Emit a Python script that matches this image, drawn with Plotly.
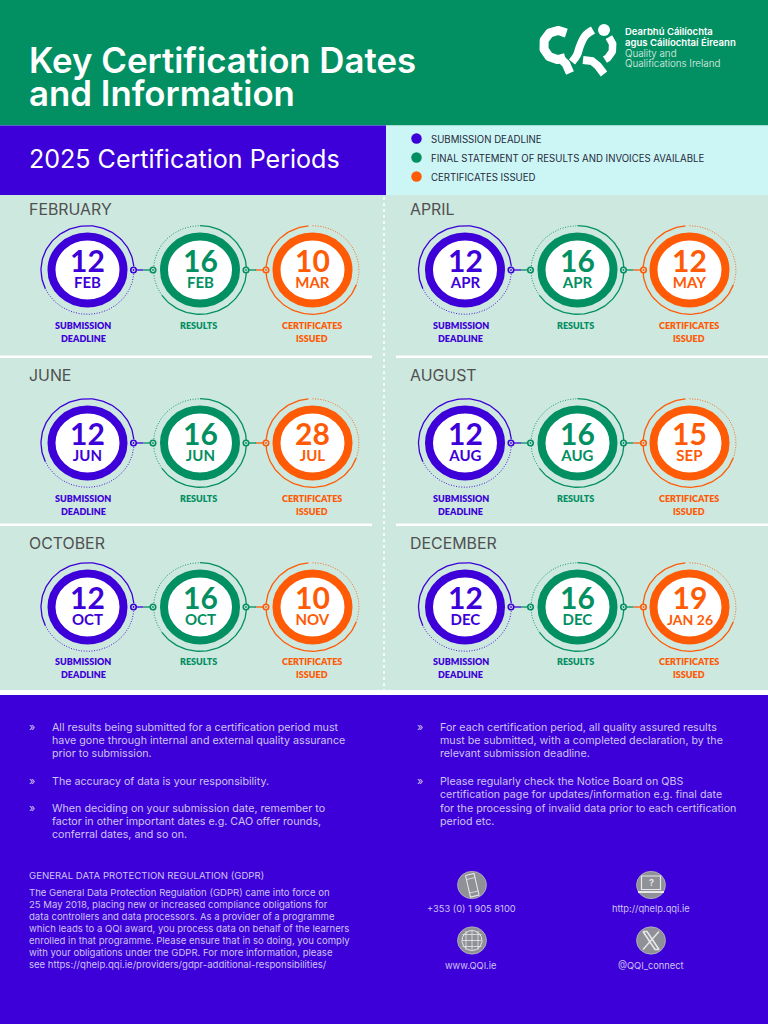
import numpy as np
import plotly.graph_objects as go

# ---------- data ----------
period_names = ["FEBRUARY", "APRIL", "JUNE", "AUGUST", "OCTOBER", "DECEMBER"]
submission_days = ["12", "12", "12", "12", "12", "12"]
submission_months = ["FEB", "APR", "JUN", "AUG", "OCT", "DEC"]
results_days = ["16", "16", "16", "16", "16", "16"]
results_months = ["FEB", "APR", "JUN", "AUG", "OCT", "DEC"]
certificate_days = ["10", "12", "28", "15", "10", "19"]
certificate_months = ["MAR", "MAY", "JUL", "SEP", "NOV", "JAN 26"]
legend_labels = ["SUBMISSION DEADLINE", "FINAL STATEMENT OF RESULTS AND INVOICES AVAILABLE", "CERTIFICATES ISSUED"]
left_bullets = [
    ["All results being submitted for a certification period must",
     "have gone through internal and external quality assurance",
     "prior to submission."],
    ["The accuracy of data is your responsibility."],
    ["When deciding on your submission date, remember to",
     "factor in other important dates e.g. CAO offer rounds,",
     "conferral dates, and so on."],
]
right_bullets = [
    ["For each certification period, all quality assured results",
     "must be submitted, with a completed declaration, by the",
     "relevant submission deadline."],
    ["Please regularly check the Notice Board on QBS",
     "certification page for updates/information e.g. final date",
     "for the processing of invalid data prior to each certification",
     "period etc."],
]
gdpr_title = "GENERAL DATA PROTECTION REGULATION (GDPR)"
gdpr_lines = [
    "The General Data Protection Regulation (GDPR) came into force on",
    "25 May 2018, placing new or increased compliance obligations for",
    "data controllers and data processors. As a provider of a programme",
    "which leads to a QQI award, you process data on behalf of the learners",
    "enrolled in that programme. Please ensure that in so doing, you comply",
    "with your obligations under the GDPR. For more information, please",
    "see https://qhelp.qqi.ie/providers/gdpr-additional-responsibilities/",
]
contact_labels = ["+353 (0) 1 905 8100", "http://qhelp.qqi.ie", "www.QQI.ie", "@QQI_connect"]

# ---------- style ----------
GREEN, PURPLE, ORANGE = "#028F62", "#3D00D8", "#FF5A05"
MINT, CYAN, LAV, GREY = "#CDE8DF", "#CCF6F6", "#CDC3F4", "#8F9196"
SANS = "Inter"
W, H = 768, 1024

col_x = [[87.5, 200, 312.5], [465, 577.5, 689.5]]
row_y = [270, 443, 607]
title_y = [209, 375, 543]
label_y = [[325, 338], [498, 511], [661, 674]]

shapes, ann, traces = [], [], []


def rect(x0, y0, x1, y1, c):
    shapes.append(dict(type="rect", x0=x0, y0=y0, x1=x1, y1=y1, fillcolor=c, line_width=0, layer="below"))


def txt(x, y, s, size, color, anchor="left", font=SANS, weight=400):
    if anchor == "left":
        x -= 1
    ann.append(dict(x=x, y=y, text=s, showarrow=False, xanchor=anchor, yanchor="middle",
                    align=anchor, xref="x", yref="y", borderpad=0,
                    font=dict(family=font, size=size, color=color, weight=weight)))


def arc(cx, cy, r, a0, a1, color, width, dash="solid", ry=None):
    t = np.radians(np.linspace(a0, a1, 90))
    traces.append(go.Scatter(x=cx + r * np.cos(t), y=cy - (ry or r) * np.sin(t), mode="lines",
                             line=dict(color=color, width=width, dash=dash),
                             hoverinfo="skip", showlegend=False))


def poly(xs, ys, color, width, shape="linear"):
    traces.append(go.Scatter(x=xs, y=ys, mode="lines", line=dict(color=color, width=width, shape=shape),
                             hoverinfo="skip", showlegend=False))


def dots(xs, ys, size, fill, line=None, lw=0):
    traces.append(go.Scatter(x=xs, y=ys, mode="markers",
                             marker=dict(size=size, color=fill, line=dict(color=line or fill, width=lw)),
                             hoverinfo="skip", showlegend=False))


# ---------- blocks ----------
rect(0, 0, W, 125.5, GREEN)
rect(0, 125.5, 386, 195, PURPLE)
rect(386, 125.5, W, 195, CYAN)
rect(0, 195, W, 690, MINT)
rect(0, 690, W, 695, "#FFFFFF")
rect(0, 695, W, H, PURPLE)
for yy in (356.8, 524.8):
    rect(0, yy - 1.2, 372, yy + 1.2, "#FFFFFF")
    rect(396, yy - 1.2, W, yy + 1.2, "#FFFFFF")
traces.append(go.Scatter(x=[384, 384], y=[197, 690], mode="lines",
                         line=dict(color="#FFFFFF", width=1.5, dash="dot"),
                         hoverinfo="skip", showlegend=False))

# ---------- header ----------
txt(29, 76, "<span style='font-size:34.8px'>Key Certification Dates</span><br>"
            "<span style='font-size:34.8px'>and Information</span>", 25, "#FFFFFF", weight=600)
txt(29, 159, "2025 Certification Periods", 25.05, "#FFFFFF", weight=400)

# logo
arc(558, 45, 14.5, 55, 300, "#FFFFFF", 9)
poly([561, 566, 570], [59, 64, 73], "#FFFFFF", 8.5)
poly([593, 585, 580, 577, 572], [30, 36, 46, 55, 62], "#FFFFFF", 8, "spline")
arc(599, 47, 14, 45, -65, "#FFFFFF", 7.5)
poly([583, 592, 598, 604], [60, 61, 66, 74], "#FFFFFF", 8)
dots([604], [30], 12, "#FFFFFF")
txt(625, 31.5, "Dearbhú Cáilíochta", 9.5, "#FFFFFF", weight=600)
txt(625, 42.5, "agus Cáilíochtaí Éireann", 9.55, "#FFFFFF", weight=600)
txt(625, 53, "Quality and", 9.8, "#E4F3EC", weight=300)
txt(625, 63.5, "Qualifications Ireland", 9.8, "#E4F3EC", weight=300)

# legend
for yy, lab, c in zip([138.5, 157.5, 176.5], legend_labels, [PURPLE, GREEN, ORANGE]):
    dots([416.5], [yy], 10.5, c)
    txt(431, yy + 0.5, lab, 9.65, "#26283A")

# ---------- periods ----------
colors = [PURPLE, GREEN, ORANGE]
DOT = "1px,1.6px"
for i, name in enumerate(period_names):
    r, c = i // 2, i % 2
    cy = row_y[r]
    xs = col_x[c]
    txt(29 if c == 0 else 410, title_y[r], name, 15.9, "#505050", weight=400)

    # rings (slightly flattened, as in the reference)
    for x, col in zip(xs, colors):
        shapes.append(dict(type="circle", x0=x - 36, x1=x + 36, y0=cy - 33.4, y1=cy + 33.4,
                           fillcolor="#FFFFFF", line=dict(color=col, width=8), layer="below"))

    # connectors
    poly([xs[0] + 46, xs[0] + 56], [cy, cy], PURPLE, 1.3)
    poly([xs[0] + 56, xs[0] + 66], [cy, cy], GREEN, 1.3)
    poly([xs[1] + 46, xs[1] + 56], [cy, cy], GREEN, 1.3)
    poly([xs[1] + 56, xs[1] + 66], [cy, cy], ORANGE, 1.3)

    # outer arcs
    RX, RY = 46.5, 44.3
    arc(xs[0], cy, RX, 205, 5, PURPLE, 1.3, ry=RY)
    arc(xs[0], cy, RX, -5, -155, PURPLE, 0.9, DOT, ry=RY)
    arc(xs[1], cy, RX, 90, -145, GREEN, 1.3, ry=RY)
    arc(xs[1], cy, RX, 215, 90, GREEN, 0.9, DOT, ry=RY)
    arc(xs[2], cy, RX, 95, 340, ORANGE, 1.3, ry=RY)
    arc(xs[2], cy, RX, 90, -20, ORANGE, 0.9, DOT, ry=RY)

    # small nodes
    for nx, col in zip([xs[0] + 46, xs[0] + 65.5, xs[1] + 46, xs[1] + 66], [PURPLE, GREEN, GREEN, ORANGE]):
        dots([nx], [cy], 5.5, MINT, col, 1.6)
        dots([nx], [cy], 1.8, col)

    days = [submission_days[i], results_days[i], certificate_days[i]]
    months = [submission_months[i], results_months[i], certificate_months[i]]
    for x, d, m, col in zip(xs, days, months, colors):
        ms = 15 if len(m) < 4 else 14
        txt(x, cy - 3.5, f"<span style='font-size:30px'>{d}</span><br><span style='font-size:{ms}px'>{m}</span>",
            12.3, col, "center", "Lato", 700)

    ly = label_y[r]
    txt(xs[0] - 4.5, ly[0], "SUBMISSION", 9, PURPLE, "center", "Lato", 800)
    txt(xs[0] - 4.5, ly[1], "DEADLINE", 9, PURPLE, "center", "Lato", 800)
    txt(xs[1] - 2, ly[0], "RESULTS", 9, GREEN, "center", "Lato", 800)
    txt(xs[2] - 1, ly[0], "CERTIFICATES", 9, ORANGE, "center", "Lato", 800)
    txt(xs[2] - 1, ly[1], "ISSUED", 9, ORANGE, "center", "Lato", 800)

# ---------- bullets ----------
BODY = 10.7
for blocks, bx, tx, ys in [(left_bullets, 29, 52, [727, 781.5, 808]), (right_bullets, 416.5, 440, [727, 781.5])]:
    for lines, y0 in zip(blocks, ys):
        txt(bx, y0, "»", BODY, LAV)
        for j, line in enumerate(lines):
            txt(tx, y0 + j * 13.4, line, BODY, LAV)

txt(29, 875.5, gdpr_title, 9.6, LAV)
for j, line in enumerate(gdpr_lines):
    txt(29, 892.5 + j * 12.05, line, 9.55, LAV)

# ---------- contacts ----------
ICON = "#E8E8EA"
cx = [472, 651, 472, 651]
cy = [885, 885, 940.5, 940.5]
lab_x = [471.5, 651, 470.5, 651]
lab_y = [908, 908, 965, 965]
for x, y, lx, ly, lab in zip(cx, cy, lab_x, lab_y, contact_labels):
    shapes.append(dict(type="circle", x0=x - 14.5, x1=x + 14.5, y0=y - 13.7, y1=y + 13.7,
                       fillcolor=GREY, line=dict(color="#C9C9D0", width=0.6), layer="below"))
    txt(lx, ly, lab, 9.3, LAV, "center")

# phone
poly([465.5, 474, 479, 470.5, 465.5], [875.5, 873.5, 895, 897, 875.5], ICON, 1.1)
poly([466.5, 475], [879.5, 877.5], ICON, 0.8)
poly([469.5, 478], [893, 891], ICON, 0.8)
# laptop
poly([641.5, 660.5, 660.5, 641.5, 641.5], [876, 876, 889.5, 889.5, 876], ICON, 1.2)
poly([638, 664], [892, 892], ICON, 2)
txt(651, 882.5, "?", 9, ICON, "center", weight=700)
# globe
gx, gy = cx[2], cy[2]
arc(gx, gy, 10, 0, 360, ICON, 1)
for off in (-6, 0, 6):
    poly([gx - 9.5, gx + 9.5], [gy + off, gy + off], ICON, 0.8)
    poly([gx + off, gx + off], [gy - 9.5, gy + 9.5], ICON, 0.8)
# X
xx, xy = cx[3], cy[3]
poly([xx - 8, xx + 8], [xy + 9, xy - 9], ICON, 1.4)
poly([xx - 8, xx - 4, xx + 8, xx + 4, xx - 8], [xy - 9, xy - 9, xy + 9, xy + 9, xy - 9], ICON, 1.6)

fig = go.Figure(traces)
fig.update_layout(
    width=W, height=H, margin=dict(l=0, r=0, t=0, b=0),
    paper_bgcolor="#FFFFFF", plot_bgcolor="#FFFFFF",
    xaxis=dict(range=[0, W], visible=False, fixedrange=True),
    yaxis=dict(range=[H, 0], visible=False, fixedrange=True),
    showlegend=False, hovermode=False, shapes=shapes, annotations=ann,
)
fig.write_html("out.html", config=dict(displayModeBar=False, responsive=False),
               post_script="document.body.style.margin='0';document.body.style.overflow='hidden';")
